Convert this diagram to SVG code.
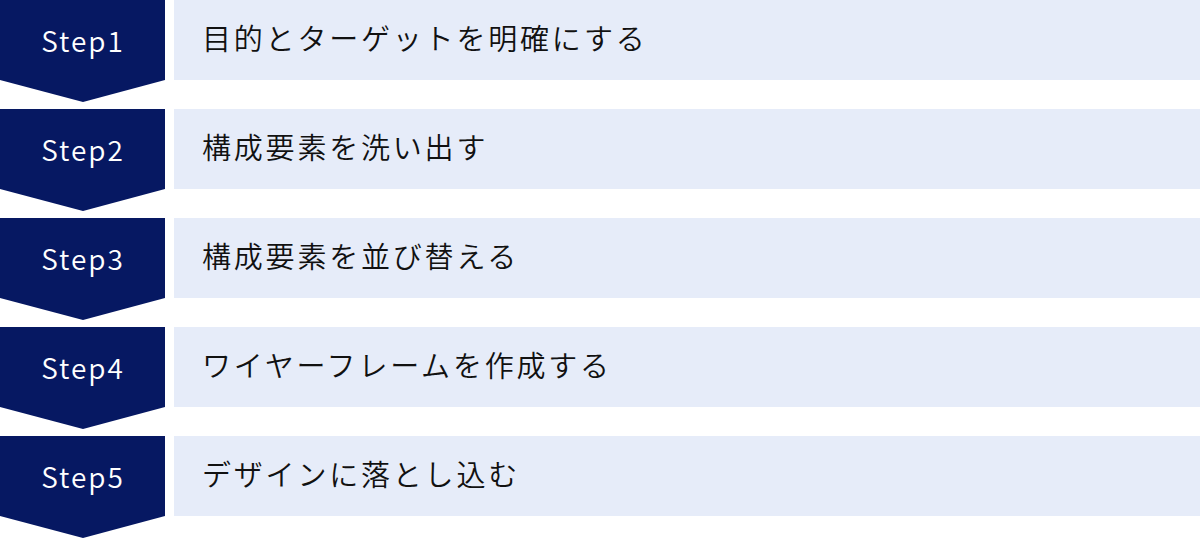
<svg xmlns="http://www.w3.org/2000/svg" width="1200" height="538" viewBox="0 0 1200 538">
<style>
.badge{fill:#061862}
.box{fill:#e6ecf9}
.step{font-family:"Noto Sans CJK JP","Noto Sans",sans-serif;font-size:28px;font-weight:350;fill:#ffffff;letter-spacing:2px}
.label{font-family:"Noto Sans CJK JP",sans-serif;font-size:29px;font-weight:350;fill:#111111;letter-spacing:2.8px}
</style>
<rect width="1200" height="538" fill="#ffffff"/>
<g id="step1">
<polygon class="badge" points="0,0 165,0 165,80 83,102 0,80"/>
<rect class="box" x="174" y="0" width="1026" height="80"/>
<text class="step" x="83" y="52" text-anchor="middle">Step1</text>
<text class="label" x="202" y="50">目的とターゲットを明確にする</text>
</g>
<g id="step2">
<polygon class="badge" points="0,109 165,109 165,189 83,211 0,189"/>
<rect class="box" x="174" y="109" width="1026" height="80"/>
<text class="step" x="83" y="161" text-anchor="middle">Step2</text>
<text class="label" x="202" y="159">構成要素を洗い出す</text>
</g>
<g id="step3">
<polygon class="badge" points="0,218 165,218 165,298 83,320 0,298"/>
<rect class="box" x="174" y="218" width="1026" height="80"/>
<text class="step" x="83" y="270" text-anchor="middle">Step3</text>
<text class="label" x="202" y="268">構成要素を並び替える</text>
</g>
<g id="step4">
<polygon class="badge" points="0,327 165,327 165,407 83,429 0,407"/>
<rect class="box" x="174" y="327" width="1026" height="80"/>
<text class="step" x="83" y="379" text-anchor="middle">Step4</text>
<text class="label" x="202" y="377">ワイヤーフレームを作成する</text>
</g>
<g id="step5">
<polygon class="badge" points="0,436 165,436 165,516 83,538 0,516"/>
<rect class="box" x="174" y="436" width="1026" height="80"/>
<text class="step" x="83" y="488" text-anchor="middle">Step5</text>
<text class="label" x="202" y="486">デザインに落とし込む</text>
</g>
<g id="connectors"/>
</svg>
